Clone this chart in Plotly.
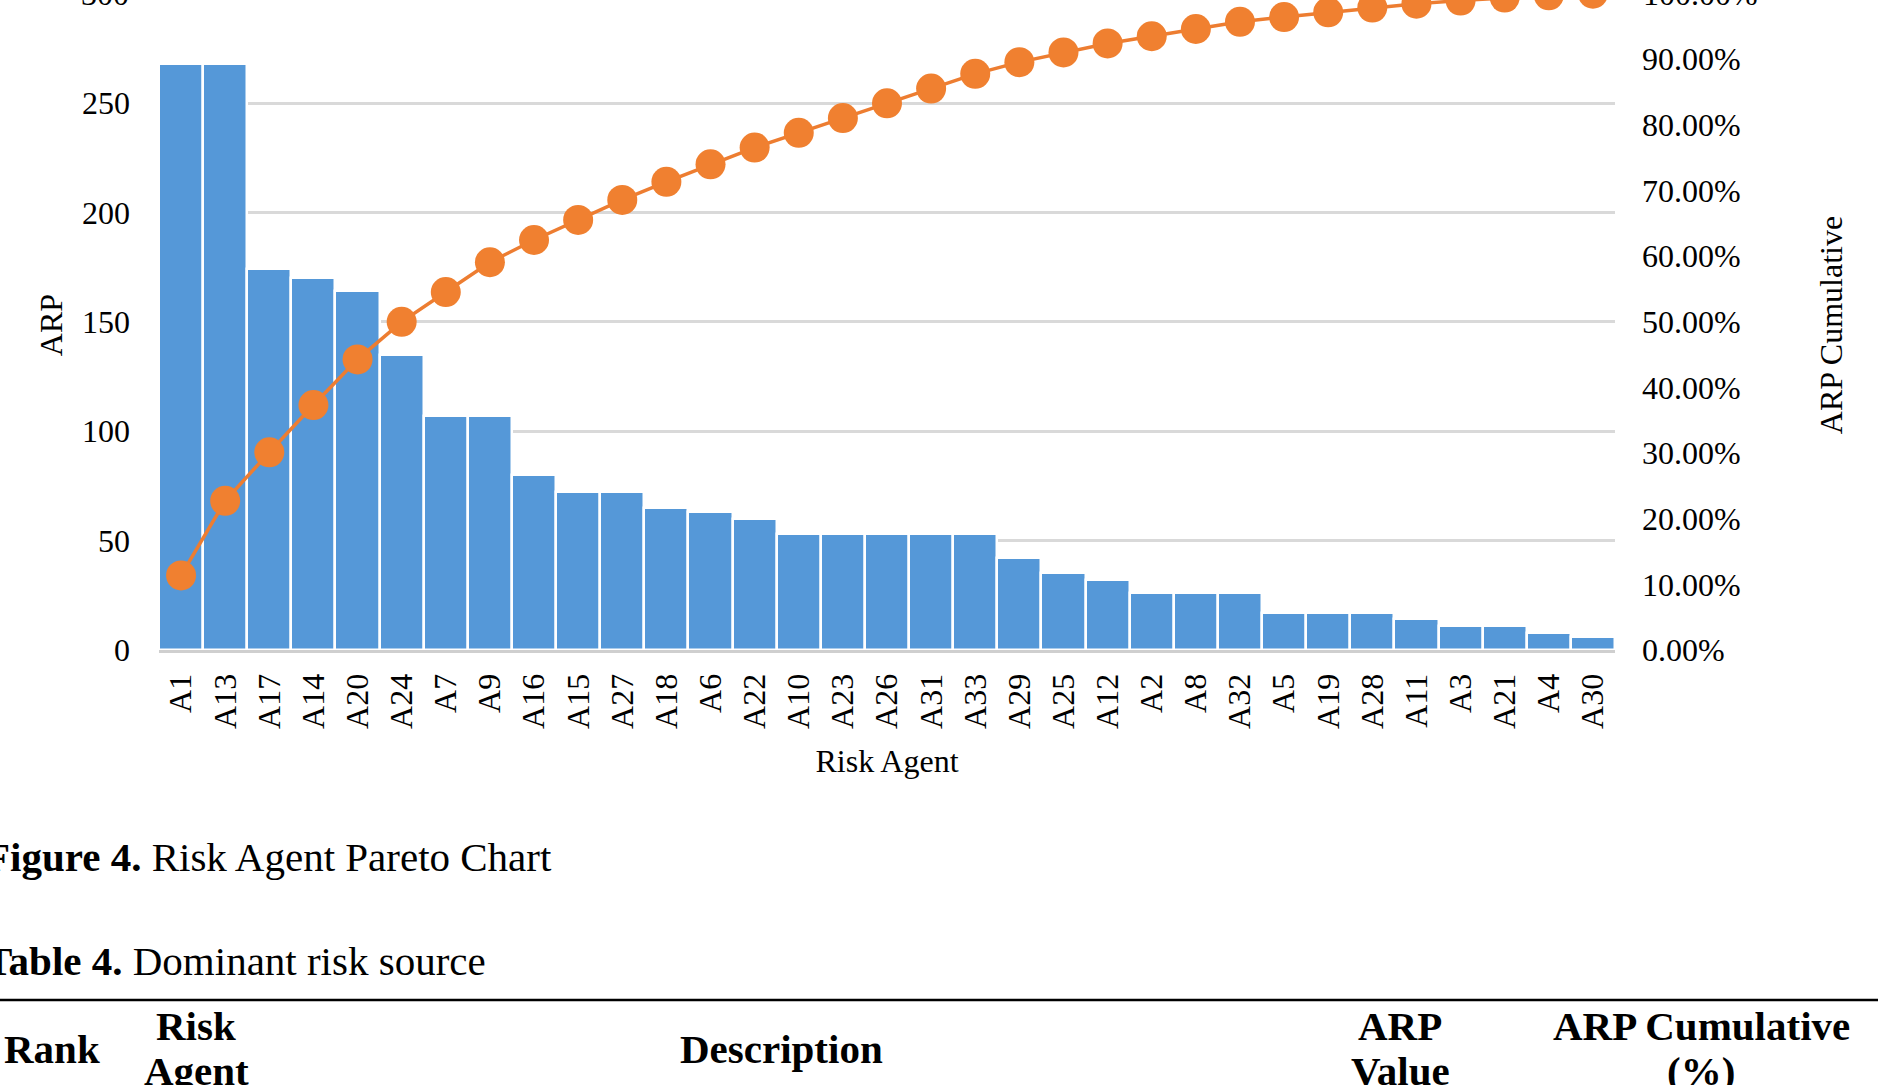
import numpy as np
import plotly.graph_objects as go

# ---------------- data ----------------
agents = ["A1", "A13", "A17", "A14", "A20", "A24", "A7", "A9", "A16", "A15", "A27",
          "A18", "A6", "A22", "A10", "A23", "A26", "A31", "A33", "A29", "A25", "A12",
          "A2", "A8", "A32", "A5", "A19", "A28", "A11", "A3", "A21", "A4", "A30"]
arp_values = [268, 268, 174, 170, 164, 135, 107, 107, 80, 72, 72,
              65, 63, 60, 53, 53, 53, 53, 53, 42, 35, 32,
              26, 26, 26, 17, 17, 17, 14, 11, 11, 8, 6]
cumulative = list(np.cumsum(arp_values) / np.sum(arp_values))

left_ticks = [0, 50, 100, 150, 200, 250]
right_ticks = [0.0, 0.1, 0.2, 0.3, 0.4, 0.5, 0.6, 0.7, 0.8, 0.9]
top_left_tick, top_right_tick = 300, 1.0

caption_bold, caption_text = "Figure 4.", " Risk Agent Pareto Chart"
table_bold, table_text = "Table 4.", " Dominant risk source"

# ---------------- layout geometry (pixels) ----------------
W, H = 1878, 1085
L, R, T, B = 159, 1615, 0, 650          # plot area
PW, PH = R - L, B - T
FONT = "Liberation Serif"
Y_TOP = 297.1                           # left-axis value at the top edge of the plot area


def xp(px):
    return (px - L) / PW


def yp(py):
    return (B - py) / PH


fig = go.Figure()
fig.add_trace(go.Bar(
    x=agents, y=arp_values, yaxis="y",
    marker=dict(color="#5598D8", line=dict(color="white", width=2.5)),
    hoverinfo="x+y",
))
fig.add_trace(go.Scatter(
    x=agents, y=cumulative, yaxis="y2", mode="lines+markers",
    line=dict(color="#ED7D31", width=3.5),
    marker=dict(size=30, color="#F08030"),
    cliponaxis=True,
))

annotations = [
    dict(text=str(top_left_tick), xref="paper", x=0, xanchor="right", xshift=-28,
         yref="paper", y=top_left_tick / Y_TOP, yanchor="middle", showarrow=False,
         font=dict(family=FONT, size=32, color="black")),
    dict(text=f"{top_right_tick:.2%}", xref="paper", x=1, xanchor="left", xshift=26,
         yref="paper", y=top_right_tick * 300 / Y_TOP, yanchor="middle", showarrow=False,
         font=dict(family=FONT, size=32, color="black")),
    dict(text=f"<b>{caption_bold}</b>{caption_text}", xref="paper", x=xp(-17), xanchor="left",
         yref="paper", y=yp(857), yanchor="middle", showarrow=False,
         font=dict(family=FONT, size=41, color="black")),
    dict(text=f"<b>{table_bold}</b>{table_text}", xref="paper", x=xp(-17), xanchor="left",
         yref="paper", y=yp(961), yanchor="middle", showarrow=False,
         font=dict(family=FONT, size=41, color="black")),
]

header = [
    ("Rank", 2, 1049, "left"),
    ("Risk", 196, 1026, "center"),
    ("Agent", 196, 1071, "center"),
    ("Description", 781, 1049, "center"),
    ("ARP", 1400, 1026, "center"),
    ("Value", 1400, 1071, "center"),
    ("ARP Cumulative", 1701, 1026, "center"),
    ("(%)", 1701, 1071, "center"),
]
for txt, hx, hy, anc in header:
    annotations.append(dict(
        text=f"<b>{txt}</b>", xref="paper", x=xp(hx), xanchor=anc,
        yref="paper", y=yp(hy), yanchor="middle", showarrow=False,
        font=dict(family=FONT, size=41, color="black")))

fig.update_layout(
    width=W, height=H,
    margin=dict(l=L, r=W - R, t=T, b=H - B, autoexpand=False),
    paper_bgcolor="white", plot_bgcolor="white",
    showlegend=False, bargap=0,
    font=dict(family=FONT, size=32, color="black"),
    xaxis=dict(
        type="category", range=[-0.5, len(agents) - 0.5],
        tickangle=-90, ticks="", ticklabelstandoff=8,
        tickfont=dict(family=FONT, size=32, color="black"),
        showline=True, linecolor="#cfcfcf", linewidth=3,
        showgrid=False, automargin=False,
        title=dict(text="Risk Agent", font=dict(family=FONT, size=32, color="black"), standoff=22),
    ),
    yaxis=dict(
        range=[0, Y_TOP], tickvals=left_ticks, ticks="", ticklabelstandoff=28,
        tickfont=dict(family=FONT, size=32, color="black"),
        showgrid=True, gridcolor="#d9d9d9", gridwidth=2.5,
        zeroline=False, showline=False, automargin=False,
        title=dict(text="ARP", font=dict(family=FONT, size=32, color="black"), standoff=9),
    ),
    yaxis2=dict(
        overlaying="y", side="right", range=[0, Y_TOP / 300],
        tickvals=right_ticks, tickformat=".2%", ticks="", ticklabelstandoff=26,
        tickfont=dict(family=FONT, size=32, color="black"),
        showgrid=False, zeroline=False, showline=False, automargin=False,
        title=dict(text="ARP Cumulative", font=dict(family=FONT, size=32, color="black"), standoff=79),
    ),
    annotations=annotations,
    shapes=[dict(type="line", xref="paper", yref="paper", x0=xp(0), x1=xp(W),
                 y0=yp(1000), y1=yp(1000), line=dict(color="black", width=2.5))],
)

fig.write_html("out.html", config={"displayModeBar": False},
               post_script="document.body.style.margin='0';document.body.style.overflow='hidden';")
